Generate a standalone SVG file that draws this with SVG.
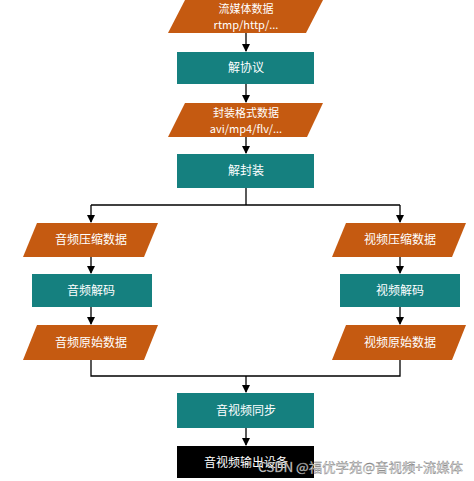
<svg xmlns="http://www.w3.org/2000/svg" width="474" height="481" viewBox="0 0 474 481">
<defs>
<marker id="ah" markerWidth="8" markerHeight="8" refX="7" refY="4" orient="auto" markerUnits="userSpaceOnUse">
<path d="M0,0 L8,4 L0,8 Z" fill="#000"/>
</marker>
<style>
.io{fill:#C55A11;}
.pr{fill:#15807F;}
.bk{fill:#000;}
.t{font-family:"Noto Sans CJK SC","Liberation Sans",sans-serif;font-size:12px;fill:#fff;text-anchor:middle;}
.s{font-size:11px;}
.c{fill:none;stroke:#000;stroke-width:1.3;}
.wm{font-family:"Noto Sans CJK SC","Liberation Sans",sans-serif;font-size:13px;fill:#e8e8e8;stroke:#777;stroke-width:0.35;}
</style>
</defs>
<rect width="474" height="481" fill="#fff"/>
<g id="connectors">
<line class="c" x1="246" y1="33" x2="246" y2="51" marker-end="url(#ah)"/>
<line class="c" x1="246" y1="84" x2="246" y2="102" marker-end="url(#ah)"/>
<line class="c" x1="246" y1="137" x2="246" y2="153" marker-end="url(#ah)"/>
<polyline class="c" points="246,188 246,205"/>
<polyline class="c" points="91,205 400,205"/>
<line class="c" x1="91" y1="205" x2="91" y2="222" marker-end="url(#ah)"/>
<line class="c" x1="400" y1="205" x2="400" y2="222" marker-end="url(#ah)"/>
<line class="c" x1="91" y1="257" x2="91" y2="273" marker-end="url(#ah)"/>
<line class="c" x1="400" y1="257" x2="400" y2="273" marker-end="url(#ah)"/>
<line class="c" x1="91" y1="307" x2="91" y2="324" marker-end="url(#ah)"/>
<line class="c" x1="400" y1="307" x2="400" y2="324" marker-end="url(#ah)"/>
<polyline class="c" points="91,360 91,376 400,376 400,360"/>
<line class="c" x1="246" y1="376" x2="246" y2="392" marker-end="url(#ah)"/>
<line class="c" x1="246" y1="428" x2="246" y2="445" marker-end="url(#ah)"/>
</g>
<g id="n1"><polygon class="io" points="185,0 323,0 306,33 168,33"/>
<text class="t s" x="246" y="13">流媒体数据</text><text class="t s" x="246" y="29">rtmp/http/...</text></g>
<g id="n2"><rect class="pr" x="177" y="52" width="137" height="32"/><text class="t" x="246" y="72">解协议</text></g>
<g id="n3"><polygon class="io" points="185,103 323,103 307,137 168,137"/>
<text class="t s" x="246" y="117">封装格式数据</text><text class="t s" x="246" y="133">avi/mp4/flv/...</text></g>
<g id="n4"><rect class="pr" x="177" y="154" width="137" height="34"/><text class="t" x="246" y="175">解封装</text></g>
<g id="n5"><polygon class="io" points="37,223 158,223 144,257 23,257"/><text class="t" x="91" y="244">音频压缩数据</text></g>
<g id="n6"><rect class="pr" x="32" y="274" width="120" height="33"/><text class="t" x="91" y="295">音频解码</text></g>
<g id="n7"><polygon class="io" points="37,325 158,325 144,360 23,360"/><text class="t" x="91" y="347">音频原始数据</text></g>
<g id="n8"><polygon class="io" points="346,223 466,223 452,257 332,257"/><text class="t" x="400" y="244">视频压缩数据</text></g>
<g id="n9"><rect class="pr" x="340" y="274" width="120" height="33"/><text class="t" x="400" y="295">视频解码</text></g>
<g id="n10"><polygon class="io" points="346,325 466,325 452,360 332,360"/><text class="t" x="400" y="347">视频原始数据</text></g>
<g id="n11"><rect class="pr" x="177" y="393" width="137" height="35"/><text class="t" x="246" y="415">音视频同步</text></g>
<g id="n12"><rect class="bk" x="177" y="446" width="137" height="32"/><text class="t" x="246" y="467">音视频输出设备</text></g>
<text class="wm" x="258" y="472" textLength="205" lengthAdjust="spacingAndGlyphs">CSDN @福优学苑@音视频+流媒体</text>
</svg>
